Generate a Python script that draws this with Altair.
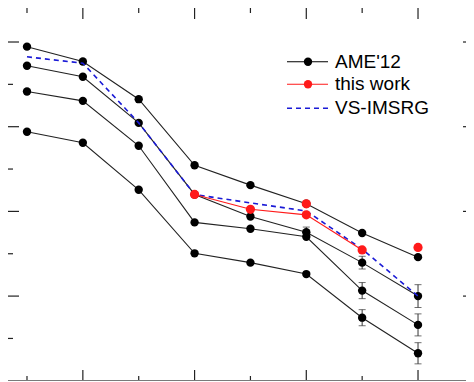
import altair as alt
import pandas as pd

# ---- data ----
x_vals = [1, 2, 3, 4, 5, 6, 7, 8]
ame_1 = [7.89, 7.54, 6.65, 5.09, 4.62, 4.18, 3.49, 2.92]
ame_2 = [7.44, 7.18, 6.09, 4.40, 3.88, 3.51, 2.79, 2.00]
ame_3 = [6.83, 6.61, 5.55, 3.74, 3.59, 3.40, 2.13, 1.32]
ame_4 = [5.88, 5.62, 4.51, 3.01, 2.79, 2.52, 1.49, 0.65]
err_1 = [0, 0, 0, 0, 0, 0, 0, 0]
err_2 = [0, 0, 0, 0, 0, 0.12, 0.15, 0.27]
err_3 = [0, 0, 0, 0, 0, 0, 0.19, 0.26]
err_4 = [0, 0, 0, 0, 0, 0, 0.19, 0.25]
this_x = [4, 5, 6, 7]
this_y = [4.40, 4.05, 3.92, 3.09]
this_extra_x = [6, 8]
this_extra_y = [4.18, 3.15]
vs_y = [7.65, 7.50, 6.09, 4.40, 4.20, 4.01, 3.11, 2.00]
legend_labels = ["AME'12", "this work", "VS-IMSRG"]
y_major = [2, 4, 6, 8]
y_minor = [1, 3, 5, 7]
x_major = [2, 4, 6, 8]
x_minor = [1, 3, 5, 7]

W, H = 458, 373
xs = alt.Scale(domain=[0.66, 8.859], nice=False, zero=False)
ys = alt.Scale(domain=[-0.005, 8.803], nice=False, zero=False)

rows = []
for sid, (ys_, es_) in enumerate(zip([ame_1, ame_2, ame_3, ame_4], [err_1, err_2, err_3, err_4])):
    for x, y, e in zip(x_vals, ys_, es_):
        rows.append({"x": x, "y": y, "err": e, "series": f"s{sid}", "lo": y - e, "hi": y + e})
ame = pd.DataFrame(rows)
errs = ame[ame["err"] > 0]
this = pd.DataFrame({"x": this_x, "y": this_y})
this_extra = pd.DataFrame({"x": this_extra_x, "y": this_extra_y})
vs = pd.DataFrame({"x": x_vals, "y": vs_y})

X = lambda f="x": alt.X(f"{f}:Q", scale=xs, axis=None)
Y = lambda f="y": alt.Y(f"{f}:Q", scale=ys, axis=None)

err_rule = alt.Chart(errs).mark_rule(color="#333", strokeWidth=1).encode(x=X(), y=Y("lo"), y2="hi:Q")
err_lo = alt.Chart(errs).mark_tick(orient="horizontal", size=7, thickness=1, color="#333").encode(x=X(), y=Y("lo"))
err_hi = alt.Chart(errs).mark_tick(orient="horizontal", size=7, thickness=1, color="#333").encode(x=X(), y=Y("hi"))

ame_lines = alt.Chart(ame).mark_line(color="#222", strokeWidth=1.1).encode(x=X(), y=Y(), detail="series:N")
ame_pts = alt.Chart(ame).mark_point(filled=True, color="black", size=70, opacity=1).encode(x=X(), y=Y())
vs_line = alt.Chart(vs).mark_line(color="#1a1ad6", strokeWidth=1.6, strokeDash=[5, 4]).encode(x=X(), y=Y())
this_line = alt.Chart(this).mark_line(color="#ff1a1a", strokeWidth=1.2).encode(x=X(), y=Y())
this_pts = alt.Chart(this).mark_point(filled=True, color="#ff1a1a", size=85, opacity=1).encode(x=X(), y=Y())
this_extra_pts = alt.Chart(this_extra).mark_point(filled=True, color="#ff1a1a", size=85, opacity=1).encode(x=X(), y=Y())

# frame ticks (inward)
def yt(vals, length, side):
    d = pd.DataFrame({"v": vals})
    if side == "left":
        xa, xb = 0, length
    else:
        xa, xb = W - length, W
    return alt.Chart(d).mark_rule(color="#222", strokeWidth=1.2).encode(
        y=Y("v"), x=alt.value(xa), x2=alt.value(xb))

def xt(vals, length, side):
    d = pd.DataFrame({"v": vals})
    if side == "bottom":
        ya, yb = H - length, H
    else:
        ya, yb = 0, length
    return alt.Chart(d).mark_rule(color="#222", strokeWidth=1.2).encode(
        x=X("v"), y=alt.value(ya), y2=alt.value(yb))

one = pd.DataFrame({"a": [0]})
bottom_line = alt.Chart(one).mark_rule(color="#7a7a7a", strokeWidth=2).encode(
    x=alt.value(0), x2=alt.value(W), y=alt.value(H))

# manual legend
leg_y = [53.7, 76.3, 100.3]
leg_colors = ["black", "#ff1a1a", "#1a1ad6"]
legend_layers = []
for i, lab in enumerate(legend_labels):
    dash = [5, 4] if i == 2 else [1, 0]
    sw = 1.6 if i == 2 else 1.1
    legend_layers.append(alt.Chart(one).mark_rule(color=leg_colors[i], strokeWidth=sw, strokeDash=dash).encode(
        x=alt.value(279), x2=alt.value(320), y=alt.value(leg_y[i])))
    if i < 2:
        legend_layers.append(alt.Chart(one).mark_point(filled=True, color=leg_colors[i], size=70, opacity=1).encode(
            x=alt.value(300), y=alt.value(leg_y[i])))
    legend_layers.append(alt.Chart(one).mark_text(text=lab, align="left", baseline="middle",
                                                  font="Liberation Sans", fontSize=19, color="black").encode(
        x=alt.value(327), y=alt.value(leg_y[i])))

chart = alt.layer(
    err_rule, err_lo, err_hi,
    ame_lines, ame_pts, vs_line, this_line, this_pts, this_extra_pts,
    yt(y_major, 11, "left"), yt(y_minor, 5, "left"),
    yt(y_major, 3, "right"),
    xt(x_major, 11, "bottom"), xt(x_minor, 5, "bottom"),
    xt(x_major, 11, "top"), xt(x_minor, 5, "top"),
    bottom_line,
    *legend_layers,
).properties(
    width=W, height=H,
    autosize=alt.AutoSizeParams(type="none"),
    padding=0,
    background="white",
).configure_view(stroke=None)

chart.save("out.html", embed_options={"renderer": "svg", "actions": False})
